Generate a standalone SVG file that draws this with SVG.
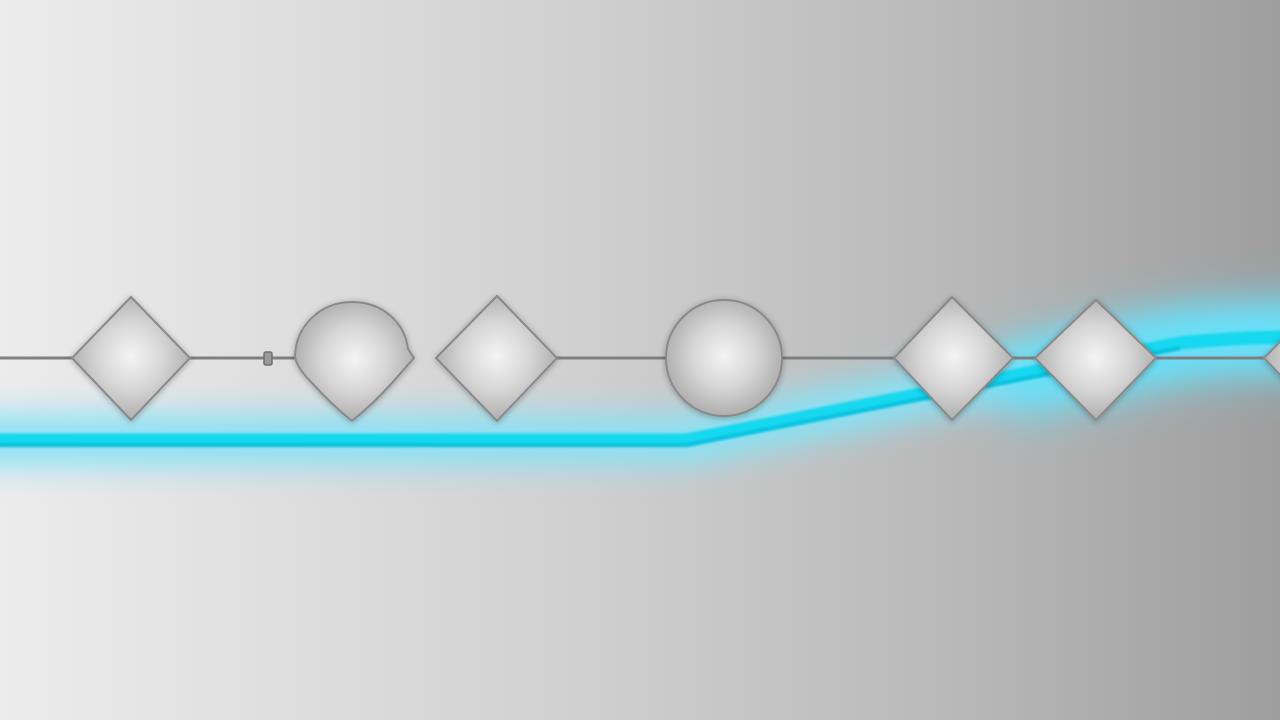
<svg xmlns="http://www.w3.org/2000/svg" width="1280" height="720" viewBox="0 0 1280 720">
  <defs>
    <linearGradient id="bg" x1="0" y1="0" x2="1" y2="0">
      <stop offset="0" stop-color="#ececec"/>
      <stop offset="0.45" stop-color="#d0d0d0"/>
      <stop offset="0.75" stop-color="#b8b8b8"/>
      <stop offset="1" stop-color="#9e9e9e"/>
    </linearGradient>
    <radialGradient id="nodeFill" cx="0.5" cy="0.48" r="0.55">
      <stop offset="0" stop-color="#f4f4f4"/>
      <stop offset="0.5" stop-color="#d6d6d6"/>
      <stop offset="1" stop-color="#a9a9a9"/>
    </radialGradient>
    <filter id="glow" x="-20%" y="-200%" width="140%" height="500%">
      <feGaussianBlur stdDeviation="16"/>
    </filter>
    <filter id="glowBig" x="-30%" y="-300%" width="160%" height="700%">
      <feGaussianBlur stdDeviation="24"/>
    </filter>
    <filter id="soft" x="-5%" y="-50%" width="110%" height="200%">
      <feGaussianBlur stdDeviation="1.2"/>
    </filter>
    <filter id="shadow" x="-20%" y="-20%" width="140%" height="140%">
      <feGaussianBlur in="SourceAlpha" stdDeviation="3"/>
      <feOffset dx="0" dy="1"/>
      <feComponentTransfer><feFuncA type="linear" slope="0.3"/></feComponentTransfer>
      <feMerge><feMergeNode/><feMergeNode in="SourceGraphic"/></feMerge>
    </filter>
  </defs>
  <style>
    .node { fill: url(#nodeFill); stroke: #8a8a8a; stroke-width: 2; filter: url(#shadow); }
    .wire { fill: none; stroke: #808080; stroke-width: 3; }
    .glow { fill: none; stroke: #86e2f6; stroke-width: 50; }
    .beam { fill: none; stroke: #12d8ee; stroke-width: 13; }
    .beamEdge { fill: none; stroke: #05b4d4; stroke-width: 4; }
  </style>

  <rect x="0" y="0" width="1280" height="720" fill="url(#bg)"/>

  <g id="connectors">
    <path class="glow" filter="url(#glow)" d="M-40 440 L687 440 L1180 343 Q1230 338 1320 336"/>
    <path fill="none" stroke="#5fe0fa" stroke-width="70" opacity="0.9" filter="url(#glowBig)" d="M1000 385 L1180 345 Q1230 338 1340 336"/>
    <path class="beam" filter="url(#soft)" d="M-10 440 L687 440 L1180 343 Q1230 338 1290 337"/>
    <path class="beamEdge" filter="url(#soft)" d="M-10 445 L687 445 L1180 348" opacity="0.6"/>
    <path class="wire" d="M0 358 H72"/>
    <path class="wire" d="M190 358 H296"/>
    <path class="wire" d="M557 358 H666"/>
    <path class="wire" d="M782 358 H894"/>
    <path class="wire" d="M1013 358 H1035"/>
    <path class="wire" d="M1156 358 H1264"/>
    <rect x="264" y="352" width="8" height="13" rx="2" fill="#9a9a9a" stroke="#737373" stroke-width="1.5"/>
  </g>

  <g id="node-1">
    <polygon class="node" points="131,297 190,358 131,420 72,358"/>
  </g>
  <g id="node-2">
    <path class="node" d="M295 356 C296 325 321 302 352 302 C383 302 405 323 408 349 L414 358 L392 383 Q372 405 352 421 Q332 405 312 383 Q296 367 295 356 Z"/>
  </g>
  <g id="node-3">
    <polygon class="node" points="497,296 557,358 497,421 436,358"/>
  </g>
  <g id="node-4">
    <circle class="node" cx="724" cy="358" r="58"/>
  </g>
  <g id="node-5">
    <polygon class="node" points="952,297 1013,358 952,420 894,358"/>
  </g>
  <g id="node-6">
    <polygon class="node" points="1096,300 1156,358 1096,420 1035,358"/>
  </g>
  <g id="node-7">
    <polygon class="node" points="1324,297 1385,358 1324,420 1264,358"/>
  </g>
</svg>
